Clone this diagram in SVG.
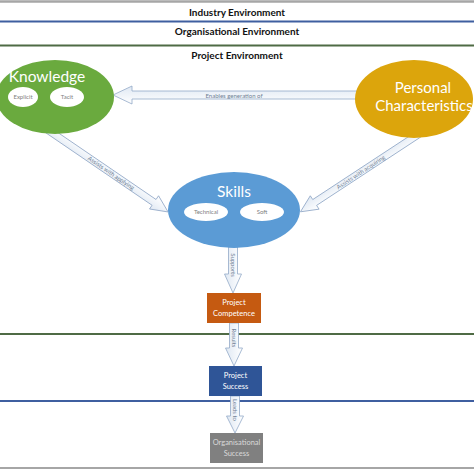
<svg xmlns="http://www.w3.org/2000/svg" width="474" height="474" viewBox="0 0 474 474">
<style>
.band{font-family:Lato,"Liberation Sans",sans-serif;font-weight:bold;font-size:10px;fill:#111;text-anchor:middle}
.big{font-family:Lato,"Liberation Sans",sans-serif;fill:#fff;text-anchor:middle}
.sub{font-family:Lato,"Liberation Sans",sans-serif;font-size:6px;fill:#808080;text-anchor:middle}
.box{font-family:Lato,"Liberation Sans",sans-serif;font-size:7.5px;fill:#fff;text-anchor:middle}
.arr{fill:url(#ag);stroke:#93a9c8;stroke-width:0.8}
.lbl{font-family:Lato,"Liberation Sans",sans-serif;font-size:6px;fill:#6f7f95;text-anchor:middle}
.sm{fill:#fff}
</style>
<defs>
<linearGradient id="ag" x1="0" y1="0" x2="0" y2="1">
<stop offset="0" stop-color="#ffffff"/>
<stop offset="1" stop-color="#dfe8f3"/>
</linearGradient>
</defs>
<rect width="474" height="474" fill="#fff"/>
<g id="bands">
<line x1="0" y1="1.5" x2="474" y2="1.5" stroke="#a6a6a6" stroke-width="2.5"/>
<line x1="0" y1="21.5" x2="474" y2="21.5" stroke="#3f5fa0" stroke-width="1.8"/>
<line x1="0" y1="45.5" x2="474" y2="45.5" stroke="#4f6b45" stroke-width="1.8"/>
<line x1="0" y1="334" x2="474" y2="334" stroke="#4f6b45" stroke-width="1.8"/>
<line x1="0" y1="401" x2="474" y2="401" stroke="#3f5fa0" stroke-width="1.8"/>
<line x1="0" y1="468" x2="474" y2="468" stroke="#a6a6a6" stroke-width="1.8"/>
<text class="band" x="237" y="15.5">Industry Environment</text>
<text class="band" x="237" y="34.5">Organisational Environment</text>
<text class="band" x="237" y="58.5">Project Environment</text>
</g>
<g id="connectors">
<g transform="translate(357,95) rotate(180)">
<path class="arr" d="M0,-4 L225,-4 L225,-9 L244,0 L225,9 L225,4 L0,4 Z"/>
</g>
<text class="lbl" x="234" y="97.5">Enables generation of</text>
<g transform="translate(45,128) rotate(34.3)">
<path class="arr" d="M0,-3.5 L132,-3.5 L132,-8 L149,0 L132,8 L132,3.5 L0,3.5 Z"/>
<text class="lbl" x="80" y="2">Assists with applying</text>
</g>
<g transform="translate(425,130) rotate(146.7)">
<path class="arr" d="M0,-3.5 L132,-3.5 L132,-8 L149,0 L132,8 L132,3.5 L0,3.5 Z"/>
</g>
<text class="lbl" transform="translate(362,174) rotate(-33.3)">Assists with acquiring</text>
<g transform="translate(233,247) rotate(90)">
<path class="arr" d="M0,-4.5 L27,-4.5 L27,-8.5 L46,0 L27,8.5 L27,4.5 L0,4.5 Z"/>
<text class="lbl" x="18" y="2">Supports</text>
</g>
<g transform="translate(234,323) rotate(90)">
<path class="arr" d="M0,-4.5 L25,-4.5 L25,-8.5 L43,0 L25,8.5 L25,4.5 L0,4.5 Z"/>
<text class="lbl" x="15" y="2">Results</text>
</g>
<g transform="translate(235,396) rotate(90)">
<path class="arr" d="M0,-4.5 L20,-4.5 L20,-8.5 L37,0 L20,8.5 L20,4.5 L0,4.5 Z"/>
<text class="lbl" x="14" y="2">Leads to</text>
</g>
</g>
<g id="knowledge">
<ellipse cx="55" cy="97" rx="59" ry="37" fill="#6aaa3e"/>
<text class="big" x="47" y="82" font-size="15.5">Knowledge</text>
<ellipse class="sm" cx="23" cy="97" rx="15" ry="10"/>
<text class="sub" x="23" y="99">Explicit</text>
<ellipse class="sm" cx="67" cy="97" rx="17" ry="10"/>
<text class="sub" x="67" y="99">Tacit</text>
</g>
<g id="personal">
<ellipse cx="414" cy="99" rx="59" ry="39" fill="#dca50c"/>
<text class="big" x="423" y="93" font-size="15">Personal</text>
<text class="big" x="424" y="111" font-size="15">Characteristics</text>
</g>
<g id="skills">
<ellipse cx="234" cy="210" rx="66" ry="38" fill="#5b9bd5"/>
<text class="big" x="234" y="197" font-size="15.5">Skills</text>
<ellipse class="sm" cx="206" cy="212" rx="22" ry="9"/>
<text class="sub" x="206" y="214">Technical</text>
<ellipse class="sm" cx="262" cy="212" rx="22" ry="9"/>
<text class="sub" x="262" y="214">Soft</text>
</g>
<g id="competence">
<rect x="207" y="293" width="54" height="30" fill="#c55a11"/>
<text class="box" x="234" y="305">Project</text>
<text class="box" x="234" y="316">Competence</text>
</g>
<g id="success">
<rect x="209" y="366" width="53" height="30" fill="#2f5597"/>
<text class="box" x="235.5" y="378">Project</text>
<text class="box" x="235.5" y="389">Success</text>
</g>
<g id="orgsuccess">
<rect x="210" y="433" width="53" height="30" fill="#808080"/>
<text class="box" x="236.5" y="445" style="fill:#d9d9d9">Organisational</text>
<text class="box" x="236.5" y="456" style="fill:#d9d9d9">Success</text>
</g>
</svg>
